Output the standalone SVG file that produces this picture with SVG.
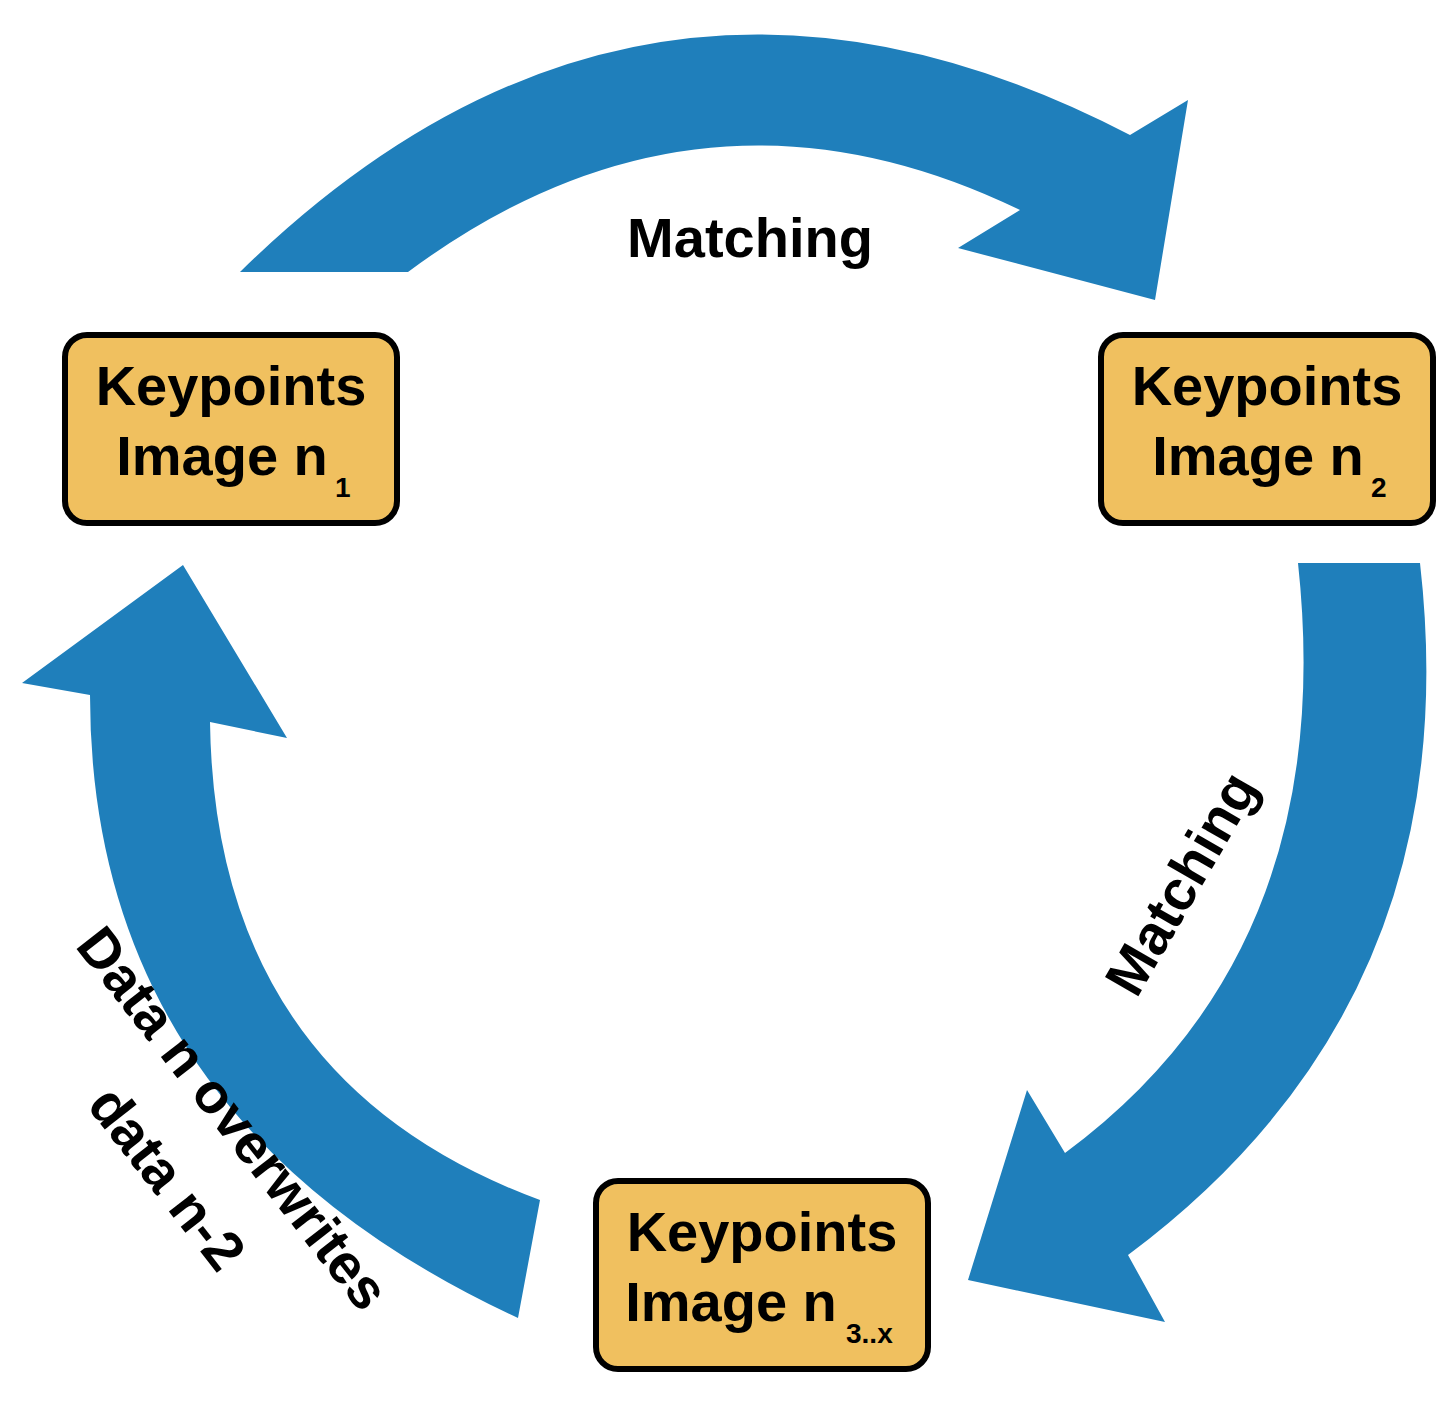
<svg xmlns="http://www.w3.org/2000/svg" width="1455" height="1402" viewBox="0 0 1455 1402">
<style>
.a{fill:#1f7fbb}
.b{fill:#f0c05f;stroke:#000;stroke-width:6}
text{font-family:"Liberation Sans",Arial,sans-serif;font-weight:bold;fill:#000}
.t{font-size:56px;text-anchor:middle}
.s{font-size:28px}
</style>
<rect width="1455" height="1402" fill="#fff"/>
<g id="connectors">
<path class="a" d="M240,272 Q640,-120 1130,135 L1188,100 L1155,300 L958,248 L1020,210 Q700,55 408,272 Z"/>
<path class="a" d="M1420,563 Q1470,1000 1128,1255 L1165,1322 L968,1280 L1027,1090 L1065,1153 Q1340,950 1298,563 Z"/>
<path class="a" d="M518,1318 Q90,1120 90,695 L22,683 L183,565 L287,738 L210,722 Q215,1080 540,1200 Z"/>
<text class="t" x="750" y="257">Matching</text>
<text class="t" transform="translate(1198,893) rotate(-60)">Matching</text>
<text class="t" transform="translate(218,1130) rotate(52)">Data n overwrites</text>
<text class="t" transform="translate(152,1190) rotate(52)">data n-2</text>
</g>
<g id="n1"><rect class="b" x="65" y="335" width="332" height="188" rx="22"/>
<text class="t" x="231" y="405">Keypoints</text><text class="t" x="222" y="475">Image n</text><text class="s" x="335" y="497">1</text></g>
<g id="n2"><rect class="b" x="1101" y="335" width="332" height="188" rx="22"/>
<text class="t" x="1267" y="405">Keypoints</text><text class="t" x="1258" y="475">Image n</text><text class="s" x="1371" y="497">2</text></g>
<g id="n3"><rect class="b" x="596" y="1181" width="332" height="188" rx="22"/>
<text class="t" x="762" y="1251">Keypoints</text><text class="t" x="731" y="1321">Image n</text><text class="s" x="846" y="1343">3..x</text></g>
</svg>
